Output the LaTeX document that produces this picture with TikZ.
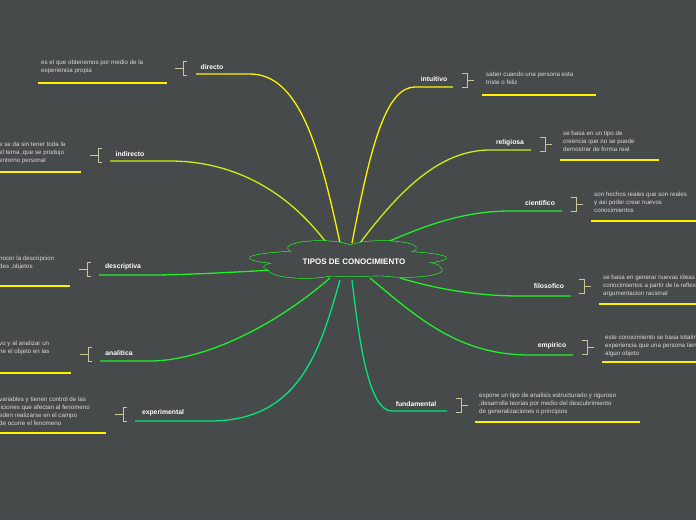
\documentclass[tikz,border=0pt]{standalone}
\usepackage{fontspec}
\setmainfont{Liberation Sans}
\begin{document}
\begin{tikzpicture}[x=1pt,y=-1pt,
  lab/.style={font=\fontsize{6.8}{8}\selectfont\bfseries,text=white,inner sep=0},
  desc/.style={font=\fontsize{6.2}{8}\selectfont,text=white!85!black,align=left,inner sep=0,anchor=north west},
  ul/.style={draw=yellow,line width=1.3pt},
  br/.style={draw={rgb,255:red,200;green,200;blue,150},line width=0.9pt},
  cy/.style={draw=yellow,line width=1.3pt},
  cyg/.style={draw={rgb,255:red,200;green,240;blue,20},line width=1.3pt},
  cg/.style={draw={rgb,255:red,30;green,240;blue,40},line width=1.3pt},
  ct/.style={draw={rgb,255:red,0;green,230;blue,120},line width=1.3pt}]
\definecolor{bg}{RGB}{70,74,75}
\fill[bg] (0,0) rectangle (696,520);
\clip (0,0) rectangle (696,520);
% branches
\draw[cy] (340,243) .. controls (320,150) and (300,74) .. (250,74) -- (196,74);
\draw[cyg] (328,245) .. controls (280,180) and (220,161) .. (170,161) -- (110,161);
\draw[cg] (272,270) .. controls (220,273) and (180,275) .. (150,275) -- (99,275);
\draw[cg] (330,278) .. controls (270,330) and (200,361) .. (150,361) -- (100,361);
\draw[ct] (340,280) .. controls (320,350) and (300,421) .. (210,421) -- (135,421);
\draw[cy] (352,243) .. controls (370,150) and (385,87) .. (415,87) -- (453,87);
\draw[cyg] (360,243) .. controls (400,190) and (440,150) .. (490,150) -- (531,150);
\draw[cg] (385,243) .. controls (420,228) and (460,211) .. (510,211) -- (562,211);
\draw[cg] (400,278) .. controls (440,290) and (480,296) .. (520,296) -- (571,296);
\draw[cg] (370,278) .. controls (420,320) and (460,355) .. (530,355) -- (573,355);
\draw[ct] (352,280) .. controls (360,350) and (370,411) .. (392,411) -- (447,411);
% cloud
\begin{scope}[line width=1.3pt,draw={rgb,255:red,30;green,240;blue,40}]
\foreach \p/\a/\b in {{348,258}/98/8,{352,267}/88/9,{320,248}/32/7,{382,248}/34/7,{305,270}/36/8,{405,270}/37/7}
  \draw (\p) ellipse [x radius=\a,y radius=\b];
\foreach \p/\a/\b in {{348,258}/98/8,{352,267}/88/9,{320,248}/32/7,{382,248}/34/7,{305,270}/36/8,{405,270}/37/7}
  \fill[bg] (\p) ellipse [x radius=\a,y radius=\b];
\end{scope}
\node[font=\fontsize{8}{10}\selectfont\bfseries,text=white] (c) at (354,262) {TIPOS DE CONOCIMIENTO};
% labels
\node[lab] (l1) at (212,67) {directo};
\node[lab] (l2) at (130,154) {indirecto};
\node[lab] (l3) at (123,267) {descriptiva};
\node[lab] (l4) at (119,353) {analitica};
\node[lab] (l5) at (163,413) {experimental};
\node[lab] (r1) at (434,79) {intuitivo};
\node[lab] (r2) at (510,143) {religiosa};
\node[lab] (r3) at (540,203) {cientifico};
\node[lab] (r4) at (549,286) {filosofico};
\node[lab] (r5) at (552,346) {empirico};
\node[lab] (r6) at (416,404) {fundamental};
% left brackets
\foreach \x/\y in {187/61,102/148,91/262,92/347,127/407}
  \draw[br] (\x,\y) -- (\x-4,\y) -- (\x-4,\y+14) -- (\x,\y+14) (\x-4,\y+7) -- (\x-12,\y+7);
% right brackets
\foreach \x/\y in {462/73,540/137,571/197,579/279,582/340,456/398}
  \draw[br] (\x,\y) -- (\x+5,\y) -- (\x+5,\y+14) -- (\x,\y+14) (\x+5,\y+7) -- (\x+12,\y+7);
% descriptions
\node[desc] (d1) at (41,60) {es el que obtenemos por medio de la\\experiencia propia};
\draw[ul] (38,83) -- (167,83);
\node[desc] (d2) at (-1,142) {e se da sin tener toda la\\el tema ,que se produjo\\entorno personal};
\draw[ul] (0,172) -- (81,172);
\node[desc] (d3) at (-1,256) {nocer la descripcion\\des ,objetos};
\draw[ul] (0,286) -- (70,286);
\node[desc] (d4) at (-1,341) {vo y al analizar un\\ne el objeto en las};
\draw[ul] (0,373) -- (71,373);
\node[desc] (d5) at (-1,397) {variables y tienen control  de las\\liciones que afectan al fenomeno\\eden realizarse en el campo\\de ocurre el fenomeno};
\draw[ul] (0,433) -- (106,433);
\node[desc] (e1) at (486,72) {saber cuando una persona esta\\triste o feliz};
\draw[ul] (482,95) -- (596,95);
\node[desc] (e2) at (563,131) {se basa en un tipo de\\creencia que no se puede\\demostrar de forma real};
\draw[ul] (560,160) -- (659,160);
\node[desc] (e3) at (594,192) {son hechos reales que son reales\\y asi poder crear nuevos\\conocimientos};
\draw[ul] (591,221) -- (696,221);
\node[desc] (e4) at (603,275) {se basa en generar nuevas ideas\\conocimientos a partir de la reflexion\\argumentacion racional};
\draw[ul] (599,304) -- (696,304);
\node[desc] (e5) at (605,335) {este conocimiento  se basa totalmente\\experiencia que una persona tiene\\algun objeto};
\draw[ul] (602,362) -- (696,362);
\node[desc] (e6) at (479,393) {expone un tipo de analisis estructurado y riguroso\\,desarrolla teorias por medio del descubrimiento\\de generalizaciones o principios};
\draw[ul] (475,422) -- (640,422);
\end{tikzpicture}
\end{document}
